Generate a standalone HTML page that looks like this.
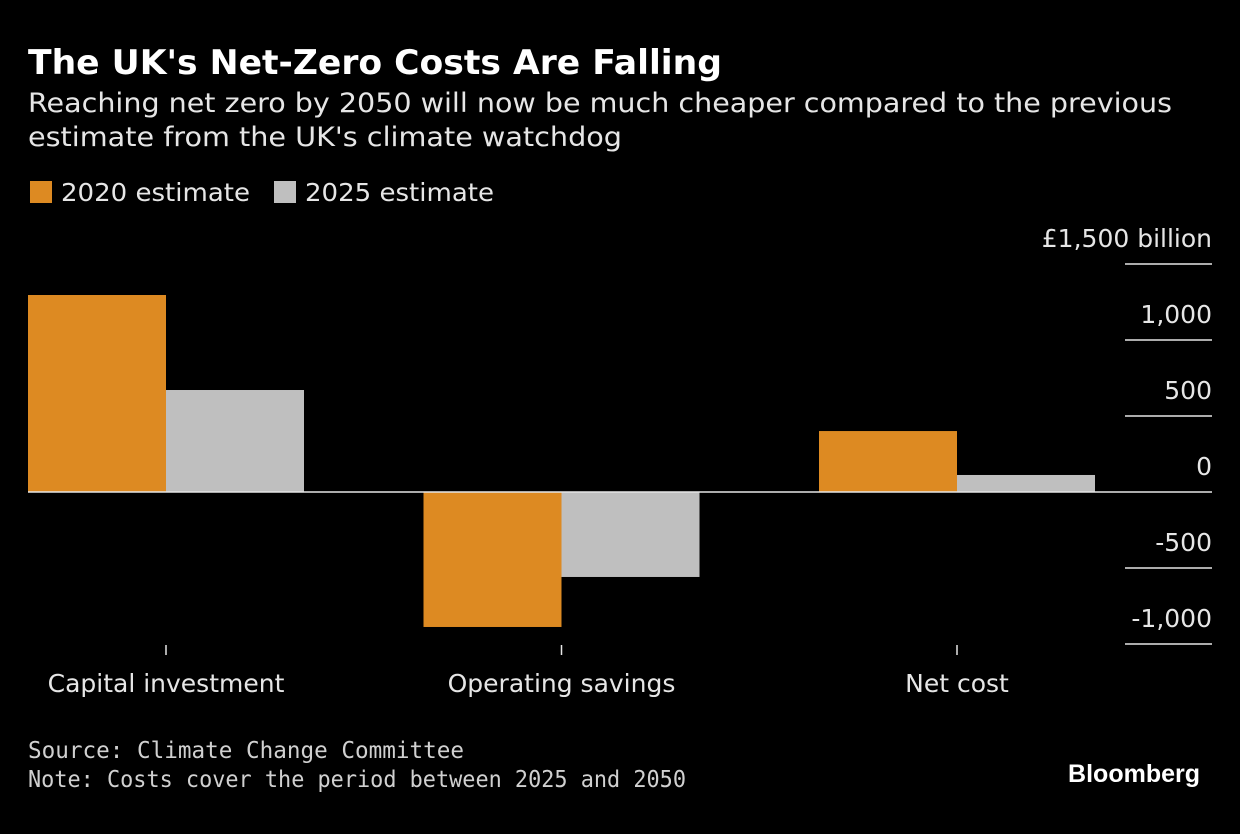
<!DOCTYPE html>
<html><head><meta charset="utf-8"><style>
body{margin:0;background:#000;width:1240px;height:834px;overflow:hidden;font-family:"Liberation Sans","DejaVu Sans",sans-serif;color:#e6e6e6}
</style></head><body>
<svg width="1240" height="834" style="position:absolute;left:0;top:0">
<text x="28" y="74" fill="#fff" font-size="34" font-weight="bold" font-family="DejaVu Sans, sans-serif" textLength="694" lengthAdjust="spacingAndGlyphs">The UK's Net-Zero Costs Are Falling</text>
<text x="28" y="112" fill="#e6e6e6" font-size="27" font-family="DejaVu Sans, sans-serif" textLength="1144" lengthAdjust="spacingAndGlyphs">Reaching net zero by 2050 will now be much cheaper compared to the previous</text>
<text x="28" y="146" fill="#e6e6e6" font-size="27" font-family="DejaVu Sans, sans-serif" textLength="594" lengthAdjust="spacingAndGlyphs">estimate from the UK's climate watchdog</text>
<g>
<rect x="30" y="181" width="22" height="22" fill="#dd8a22"/>
<text x="61" y="201" fill="#e6e6e6" font-size="25" font-family="DejaVu Sans, sans-serif" textLength="189" lengthAdjust="spacingAndGlyphs">2020 estimate</text>
<rect x="274" y="181" width="22" height="22" fill="#bfbfbf"/>
<text x="305" y="201" fill="#e6e6e6" font-size="25" font-family="DejaVu Sans, sans-serif" textLength="189" lengthAdjust="spacingAndGlyphs">2025 estimate</text>
</g>
<g id="plot"></g>
<text x="28" y="758" fill="#d0d0d0" font-size="23" font-family="DejaVu Sans Mono, monospace" textLength="436" lengthAdjust="spacingAndGlyphs">Source: Climate Change Committee</text>
<text x="28" y="787" fill="#d0d0d0" font-size="23" font-family="DejaVu Sans Mono, monospace" textLength="658" lengthAdjust="spacingAndGlyphs">Note: Costs cover the period between 2025 and 2050</text>
<text x="1200" y="782" text-anchor="end" fill="#fff" font-size="25" font-weight="bold">Bloomberg</text>
</svg>
<script>
const categories=["Capital investment","Operating savings","Net cost"];
const values2020=[1296,-888,401];
const values2025=[671,-559,112];
const tickValues=[1500,1000,500,0,-500,-1000];
const tickLabels=["£1,500 billion","1,000","500","0","-500","-1,000"];
const NS="http://www.w3.org/2000/svg";
const g=document.getElementById("plot");
const y0=492,k=0.152;
const y=v=>y0-v*k;
const cx=i=>166+i*395.5;
const bw=138;
function mk(t,a){const e=document.createElementNS(NS,t);for(const n in a)e.setAttribute(n,a[n]);g.appendChild(e);return e;}
tickValues.forEach((v,i)=>{
 if(v!==0){const l=mk("line",{x1:1125,x2:1212,y1:y(v),y2:y(v),stroke:"#e6e6e6","stroke-width":1.5});
 
 }
 const t=mk("text",{x:1212,y:y(v)-17,"text-anchor":"end",fill:"#e6e6e6","font-size":25,"font-family":"DejaVu Sans, sans-serif"});
 t.textContent=tickLabels[i];
 
 
});
categories.forEach((c,i)=>{
 const a=values2020[i],b=values2025[i];
 const r1=mk("rect",{x:cx(i)-bw,y:Math.min(y(a),y0),width:bw,height:Math.abs(y(a)-y0),fill:"#dd8a22"});
 
 
 const r2=mk("rect",{x:cx(i),y:Math.min(y(b),y0),width:bw,height:Math.abs(y(b)-y0),fill:"#bfbfbf"});
 
 
 const tk=mk("line",{x1:cx(i),x2:cx(i),y1:645,y2:655,stroke:"#e6e6e6","stroke-width":1.5});
 
 
 const t=mk("text",{x:cx(i),y:692,"text-anchor":"middle",fill:"#e6e6e6","font-size":25,"font-family":"DejaVu Sans, sans-serif"});
 t.textContent=c;
 
 
});
const z=mk("line",{x1:28,x2:1212,y1:y0,y2:y0,stroke:"#e6e6e6","stroke-width":1.5});


</script>
</body></html>
